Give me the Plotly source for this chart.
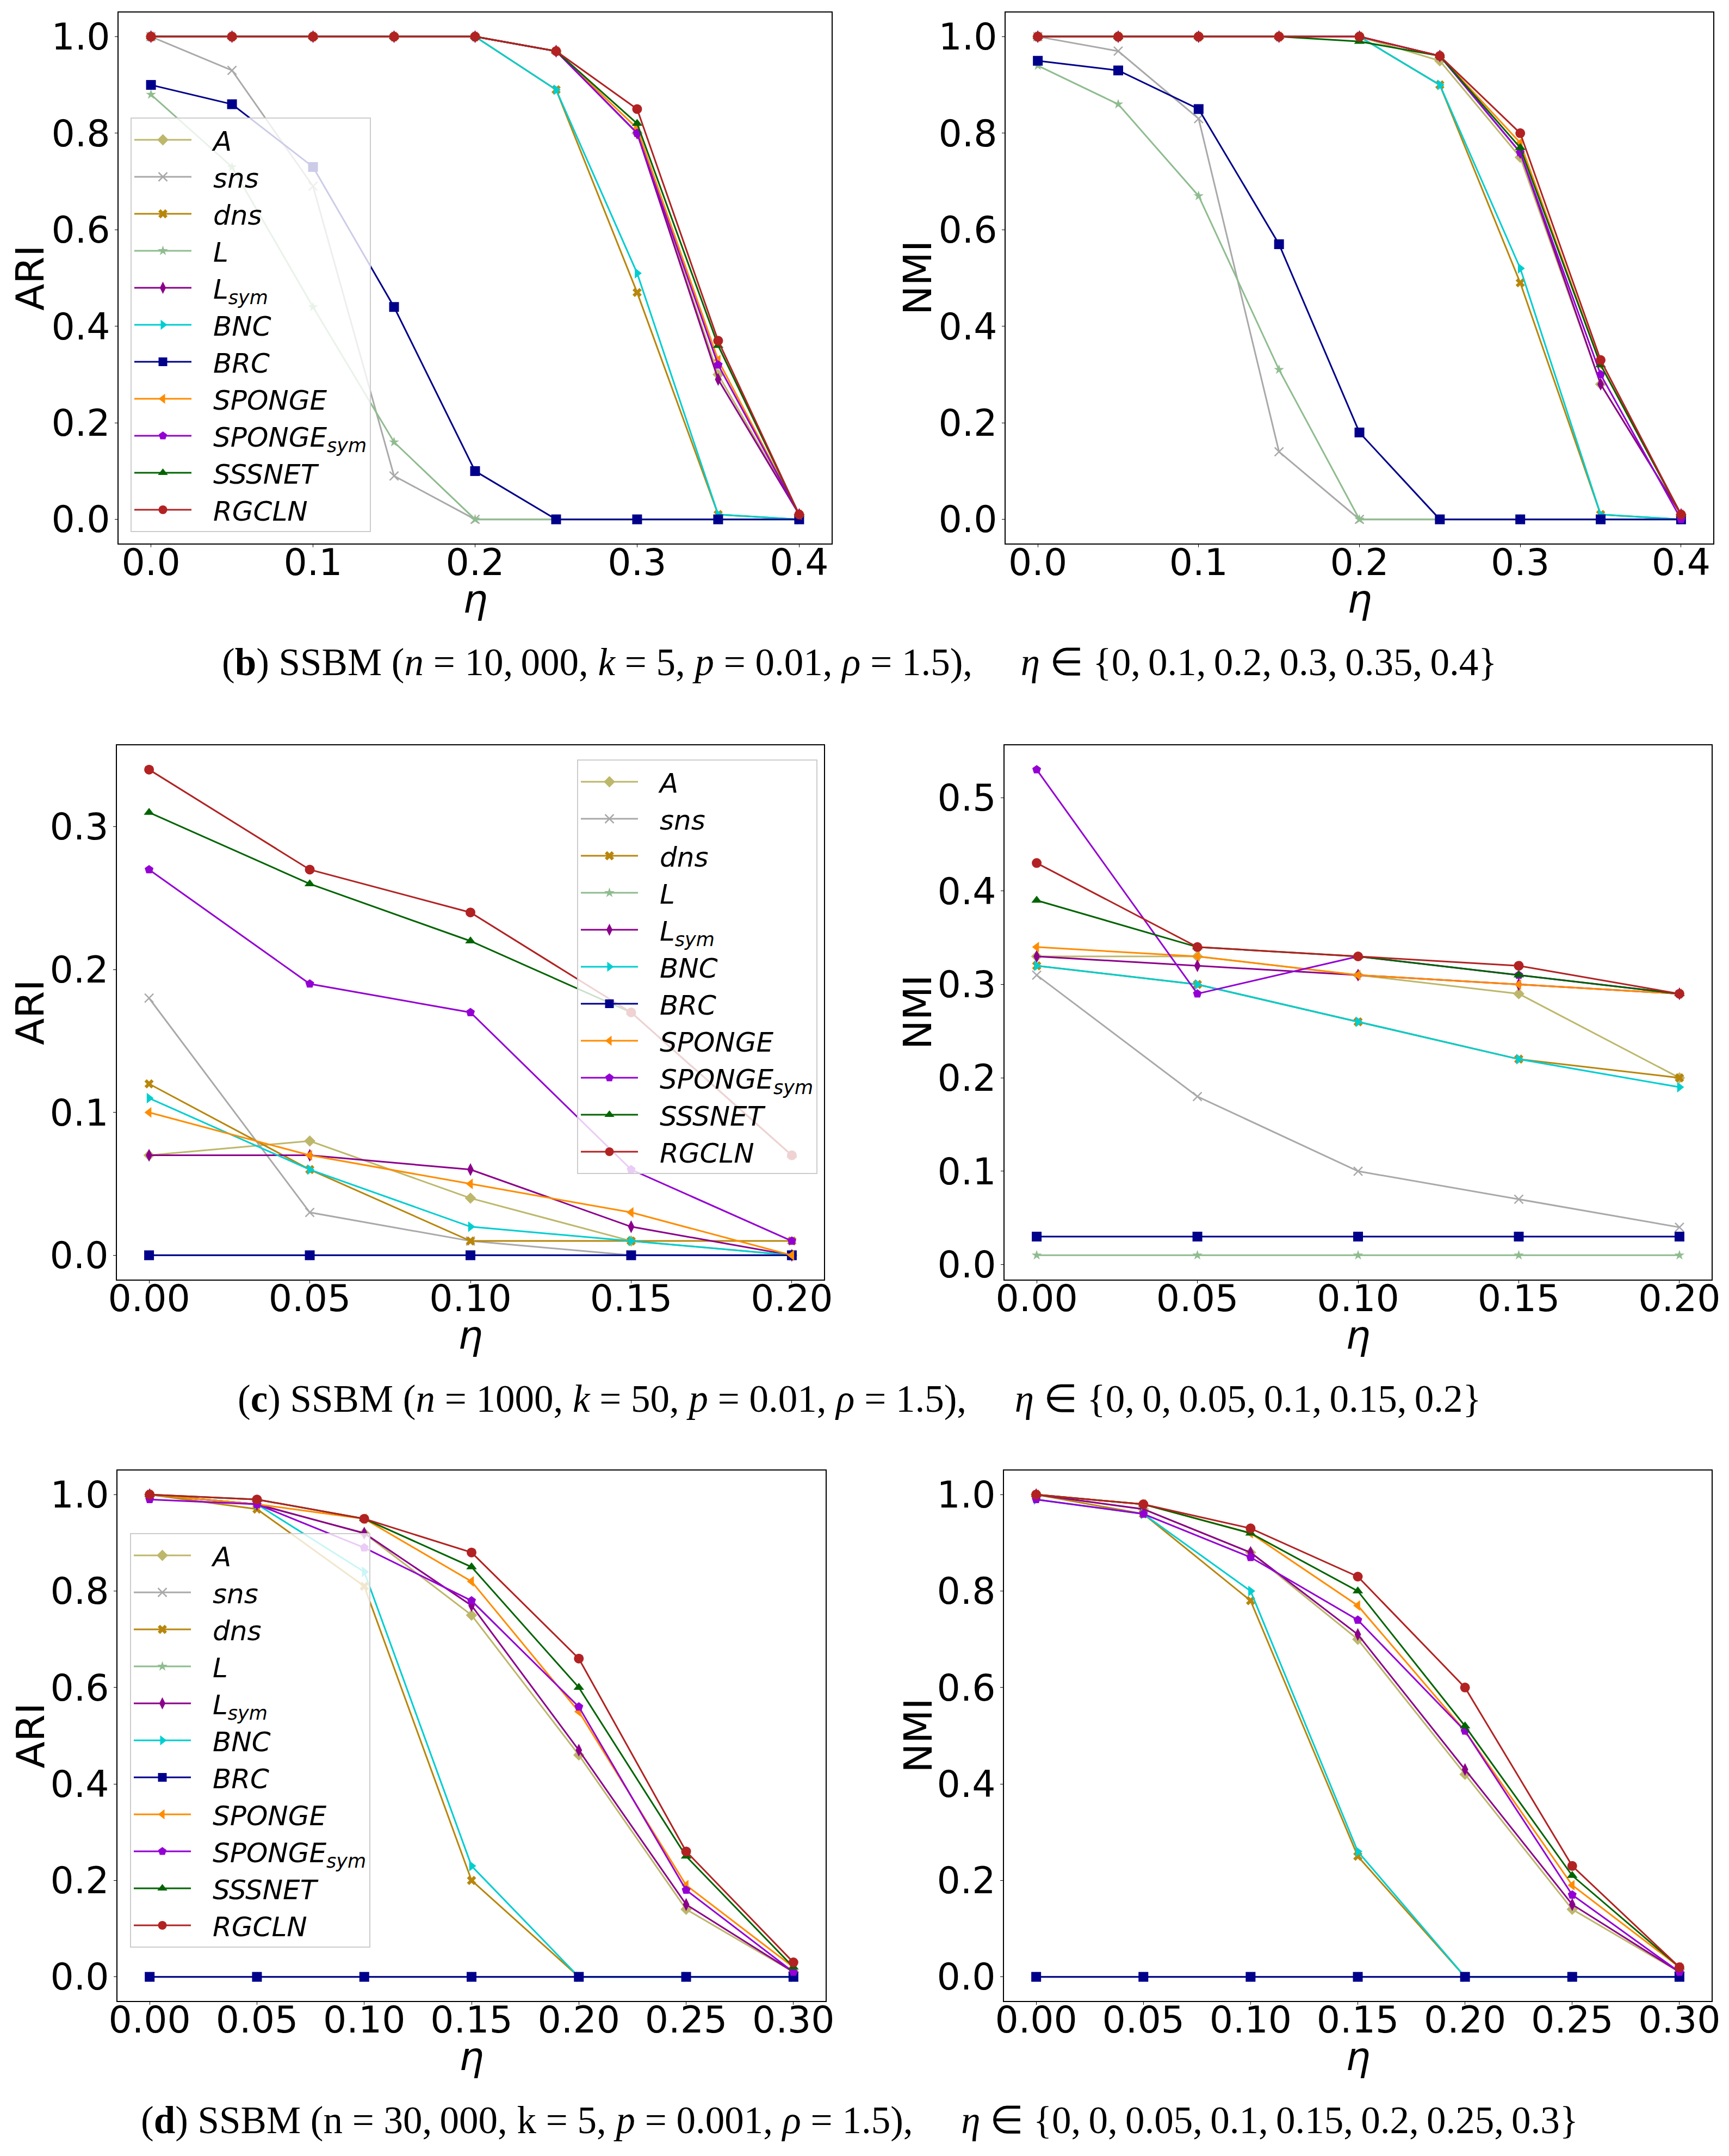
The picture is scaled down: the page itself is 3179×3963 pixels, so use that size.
import plotly.graph_objects as go
from plotly.subplots import make_subplots

# methods, in plotting order (last one is drawn on top)
labels = ["<i>A</i>", "<i>sns</i>", "<i>dns</i>", "<i>L</i>", "<i>L<sub>sym</sub></i>",
          "<i>BNC</i>", "<i>BRC</i>", "<i>SPONGE</i>", "<i>SPONGE<sub>sym</sub></i>",
          "<i>SSSNET</i>", "<i>RGCLN</i>"]
colors = ["#BDB76B", "#A9A9A9", "#B8860B", "#8FBC8F", "#8B008B", "#00CED1",
          "#00008B", "#FF8C00", "#9400D3", "#006400", "#B22222"]
symbols = ["diamond", "x-thin", "x", "star", "diamond-tall", "triangle-right",
           "square", "triangle-left", "pentagon", "triangle-up", "circle"]
msizes = [16, 16, 15, 14, 17, 17, 18, 17, 17, 17, 18]

# (b) SSBM n=10,000
eta_b = [0.0, 0.05, 0.10, 0.15, 0.20, 0.25, 0.30, 0.35, 0.40]
ari_b = [
    [1.0, 1.0, 1.0, 1.0, 1.0, 0.97, 0.80, 0.30, 0.01],
    [1.0, 0.93, 0.69, 0.09, 0.0, 0.0, 0.0, 0.0, 0.0],
    [1.0, 1.0, 1.0, 1.0, 1.0, 0.89, 0.47, 0.01, 0.0],
    [0.88, 0.73, 0.44, 0.16, 0.0, 0.0, 0.0, 0.0, 0.0],
    [1.0, 1.0, 1.0, 1.0, 1.0, 0.97, 0.80, 0.29, 0.01],
    [1.0, 1.0, 1.0, 1.0, 1.0, 0.89, 0.51, 0.01, 0.0],
    [0.90, 0.86, 0.73, 0.44, 0.10, 0.0, 0.0, 0.0, 0.0],
    [1.0, 1.0, 1.0, 1.0, 1.0, 0.97, 0.81, 0.33, 0.01],
    [1.0, 1.0, 1.0, 1.0, 1.0, 0.97, 0.80, 0.32, 0.01],
    [1.0, 1.0, 1.0, 1.0, 1.0, 0.97, 0.82, 0.36, 0.01],
    [1.0, 1.0, 1.0, 1.0, 1.0, 0.97, 0.85, 0.37, 0.01],
]
nmi_b = [
    [1.0, 1.0, 1.0, 1.0, 1.0, 0.95, 0.75, 0.28, 0.01],
    [1.0, 0.97, 0.83, 0.14, 0.0, 0.0, 0.0, 0.0, 0.0],
    [1.0, 1.0, 1.0, 1.0, 1.0, 0.90, 0.49, 0.01, 0.0],
    [0.94, 0.86, 0.67, 0.31, 0.0, 0.0, 0.0, 0.0, 0.0],
    [1.0, 1.0, 1.0, 1.0, 1.0, 0.96, 0.76, 0.28, 0.01],
    [1.0, 1.0, 1.0, 1.0, 1.0, 0.90, 0.52, 0.01, 0.0],
    [0.95, 0.93, 0.85, 0.57, 0.18, 0.0, 0.0, 0.0, 0.0],
    [1.0, 1.0, 1.0, 1.0, 1.0, 0.96, 0.78, 0.32, 0.01],
    [1.0, 1.0, 1.0, 1.0, 1.0, 0.96, 0.76, 0.30, 0.0],
    [1.0, 1.0, 1.0, 1.0, 0.99, 0.96, 0.77, 0.32, 0.01],
    [1.0, 1.0, 1.0, 1.0, 1.0, 0.96, 0.80, 0.33, 0.01],
]

# (c) SSBM n=1000
eta_c = [0.0, 0.05, 0.10, 0.15, 0.20]
ari_c = [
    [0.07, 0.08, 0.04, 0.01, 0.0],
    [0.18, 0.03, 0.01, 0.0, 0.0],
    [0.12, 0.06, 0.01, 0.01, 0.01],
    [0.0, 0.0, 0.0, 0.0, 0.0],
    [0.07, 0.07, 0.06, 0.02, 0.0],
    [0.11, 0.06, 0.02, 0.01, 0.0],
    [0.0, 0.0, 0.0, 0.0, 0.0],
    [0.10, 0.07, 0.05, 0.03, 0.0],
    [0.27, 0.19, 0.17, 0.06, 0.01],
    [0.31, 0.26, 0.22, 0.17, 0.07],
    [0.34, 0.27, 0.24, 0.17, 0.07],
]
nmi_c = [
    [0.33, 0.33, 0.31, 0.29, 0.20],
    [0.31, 0.18, 0.10, 0.07, 0.04],
    [0.32, 0.30, 0.26, 0.22, 0.20],
    [0.01, 0.01, 0.01, 0.01, 0.01],
    [0.33, 0.32, 0.31, 0.30, 0.29],
    [0.32, 0.30, 0.26, 0.22, 0.19],
    [0.03, 0.03, 0.03, 0.03, 0.03],
    [0.34, 0.33, 0.31, 0.30, 0.29],
    [0.53, 0.29, 0.33, 0.31, 0.29],
    [0.39, 0.34, 0.33, 0.31, 0.29],
    [0.43, 0.34, 0.33, 0.32, 0.29],
]

# (d) SSBM n=30,000
eta_d = [0.0, 0.05, 0.10, 0.15, 0.20, 0.25, 0.30]
ari_d = [
    [1.0, 0.98, 0.92, 0.75, 0.46, 0.14, 0.01],
    [0.0, 0.0, 0.0, 0.0, 0.0, 0.0, 0.0],
    [1.0, 0.97, 0.81, 0.20, 0.0, 0.0, 0.0],
    [0.0, 0.0, 0.0, 0.0, 0.0, 0.0, 0.0],
    [1.0, 0.98, 0.92, 0.77, 0.47, 0.15, 0.01],
    [1.0, 0.98, 0.84, 0.23, 0.0, 0.0, 0.0],
    [0.0, 0.0, 0.0, 0.0, 0.0, 0.0, 0.0],
    [1.0, 0.98, 0.95, 0.82, 0.55, 0.19, 0.02],
    [0.99, 0.98, 0.89, 0.78, 0.56, 0.18, 0.01],
    [1.0, 0.99, 0.95, 0.85, 0.60, 0.25, 0.02],
    [1.0, 0.99, 0.95, 0.88, 0.66, 0.26, 0.03],
]
nmi_d = [
    [1.0, 0.97, 0.88, 0.70, 0.42, 0.14, 0.01],
    [0.0, 0.0, 0.0, 0.0, 0.0, 0.0, 0.0],
    [1.0, 0.96, 0.78, 0.25, 0.0, 0.0, 0.0],
    [0.0, 0.0, 0.0, 0.0, 0.0, 0.0, 0.0],
    [1.0, 0.97, 0.88, 0.71, 0.43, 0.15, 0.01],
    [0.99, 0.96, 0.80, 0.26, 0.0, 0.0, 0.0],
    [0.0, 0.0, 0.0, 0.0, 0.0, 0.0, 0.0],
    [1.0, 0.98, 0.92, 0.77, 0.51, 0.19, 0.02],
    [0.99, 0.96, 0.87, 0.74, 0.51, 0.17, 0.01],
    [1.0, 0.98, 0.92, 0.80, 0.52, 0.21, 0.02],
    [1.0, 0.98, 0.93, 0.83, 0.60, 0.23, 0.02],
]

captions = [
    "(<b>b</b>) SSBM (<i>n</i> = 10,\u2009000, <i>k</i> = 5, <i>p</i> = 0.01, <i>ρ</i> = 1.5),"
    "\u2003 <i>η</i> ∈ {0,\u20090.1,\u20090.2,\u20090.3,\u20090.35,\u20090.4}",
    "(<b>c</b>) SSBM (<i>n</i> = 1000, <i>k</i> = 50, <i>p</i> = 0.01, <i>ρ</i> = 1.5),"
    "\u2003 <i>η</i> ∈ {0,\u20090,\u20090.05,\u20090.1,\u20090.15,\u20090.2}",
    "(<b>d</b>) SSBM (n = 30,\u2009000, k = 5, <i>p</i> = 0.001, <i>ρ</i> = 1.5),"
    "\u2003 <i>η</i> ∈ {0,\u20090,\u20090.05,\u20090.1,\u20090.15,\u20090.2,\u20090.25,\u20090.3}",
]

# page geometry (page pixels); the html body adds an 8 px margin
PW, PH = 3179, 3963
OFF = 8
W, H = PW - 2 * OFF, PH - 2 * OFF
# per row: (left box x0, x1), (right box x0, x1), (y top, y bottom)
rows_geom = [
    ((218, 1529), (1849, 3150), (23, 999)),
    ((215, 1515), (1847, 3147), (1370, 2352)),
    ((216, 1518), (1846, 3147), (2703, 3678)),
]
ytitle_x = [55, 1687]
legend_pos = [(240, 216), (1061, 1396), (239, 2818)]


def fx(px):
    return (px - OFF) / W


def fy(py):
    return 1 - (py - OFF) / H


SANS = "DejaVu Sans"

fig = make_subplots(rows=3, cols=2)

panels = [
    (1, 1, eta_b, ari_b, "legend"), (1, 2, eta_b, nmi_b, None),
    (2, 1, eta_c, ari_c, "legend2"), (2, 2, eta_c, nmi_c, None),
    (3, 1, eta_d, ari_d, "legend3"), (3, 2, eta_d, nmi_d, None),
]
for r, c, xs, table, leg in panels:
    for i, ys in enumerate(table):
        sym = symbols[i]
        fig.add_trace(
            go.Scatter(
                x=xs, y=ys, mode="lines+markers", name="\u2002\u2009" + labels[i],
                line=dict(color=colors[i], width=3),
                marker=dict(symbol=sym, size=msizes[i], color=colors[i],
                            line=dict(color=colors[i], width=2.5 if sym == "x-thin" else 0)),
                showlegend=leg is not None, legend=leg or "legend",
            ),
            row=r, col=c,
        )

axis_style = dict(showgrid=False, zeroline=False, showline=True, mirror=True, automargin=False,
                  linecolor="black", linewidth=1.5, ticks="outside", ticklen=5,
                  tickcolor="black", tickfont=dict(family=SANS, size=68, color="black"))

x_setups = [
    ([-0.02, 0.42], [0, 0.1, 0.2, 0.3, 0.4], ".1f"),
    ([-0.01, 0.21], [0, 0.05, 0.1, 0.15, 0.2], ".2f"),
    ([-0.015, 0.315], [0, 0.05, 0.1, 0.15, 0.2, 0.25, 0.3], ".2f"),
]
y_setups = [
    [([-0.05, 1.05], [0, 0.2, 0.4, 0.6, 0.8, 1.0]), ([-0.05, 1.05], [0, 0.2, 0.4, 0.6, 0.8, 1.0])],
    [([-0.017, 0.357], [0, 0.1, 0.2, 0.3]), ([-0.016, 0.556], [0, 0.1, 0.2, 0.3, 0.4, 0.5])],
    [([-0.05, 1.05], [0, 0.2, 0.4, 0.6, 0.8, 1.0]), ([-0.05, 1.05], [0, 0.2, 0.4, 0.6, 0.8, 1.0])],
]

for r in range(3):
    y0, y1 = rows_geom[r][2]
    for c in range(2):
        x0, x1 = rows_geom[r][c]
        xr, xt, xf = x_setups[r]
        yr, yt = y_setups[r][c]
        fig.update_xaxes(domain=[fx(x0), fx(x1)], range=xr, tickvals=xt, tickformat=xf,
                         ticklabelstandoff=-30, row=r + 1, col=c + 1, **axis_style)
        fig.update_yaxes(domain=[fy(y1), fy(y0)], range=yr, tickvals=yt, tickformat=".1f",
                         ticklabelstandoff=-5, row=r + 1, col=c + 1, **axis_style)
        # axis titles
        fig.add_annotation(text="<i>η</i>", x=fx((x0 + x1) / 2), y=fy(y1 + 102),
                           xref="paper", yref="paper", xanchor="center", yanchor="middle",
                           showarrow=False, font=dict(family=SANS, size=72, color="black"))
        fig.add_annotation(text="ARI" if c == 0 else "NMI", textangle=-90,
                           x=fx(ytitle_x[c]), y=fy((y0 + y1) / 2),
                           xref="paper", yref="paper", xanchor="center", yanchor="middle",
                           showarrow=False, font=dict(family=SANS, size=72, color="black"))
    fig.add_annotation(text=captions[r], x=fx(1580), y=fy(y1 + 219),
                       xref="paper", yref="paper", xanchor="center", yanchor="middle",
                       showarrow=False,
                       font=dict(family="Liberation Serif", size=71, color="black"))

legend_style = dict(xanchor="left", yanchor="top", bgcolor="rgba(255,255,255,0.8)",
                    bordercolor="#cccccc", borderwidth=2, itemwidth=105, tracegroupgap=0,
                    font=dict(family=SANS, size=50, color="black"))
fig.update_layout(
    legend=dict(x=fx(legend_pos[0][0]), y=fy(legend_pos[0][1]), **legend_style),
    legend2=dict(x=fx(legend_pos[1][0]), y=fy(legend_pos[1][1]), **legend_style),
    legend3=dict(x=fx(legend_pos[2][0]), y=fy(legend_pos[2][1]), **legend_style),
)

fig.update_layout(
    template="none", width=W, height=H, margin=dict(l=0, r=0, t=0, b=0),
    plot_bgcolor="white", paper_bgcolor="white",
)

fig.write_html("out.html")
